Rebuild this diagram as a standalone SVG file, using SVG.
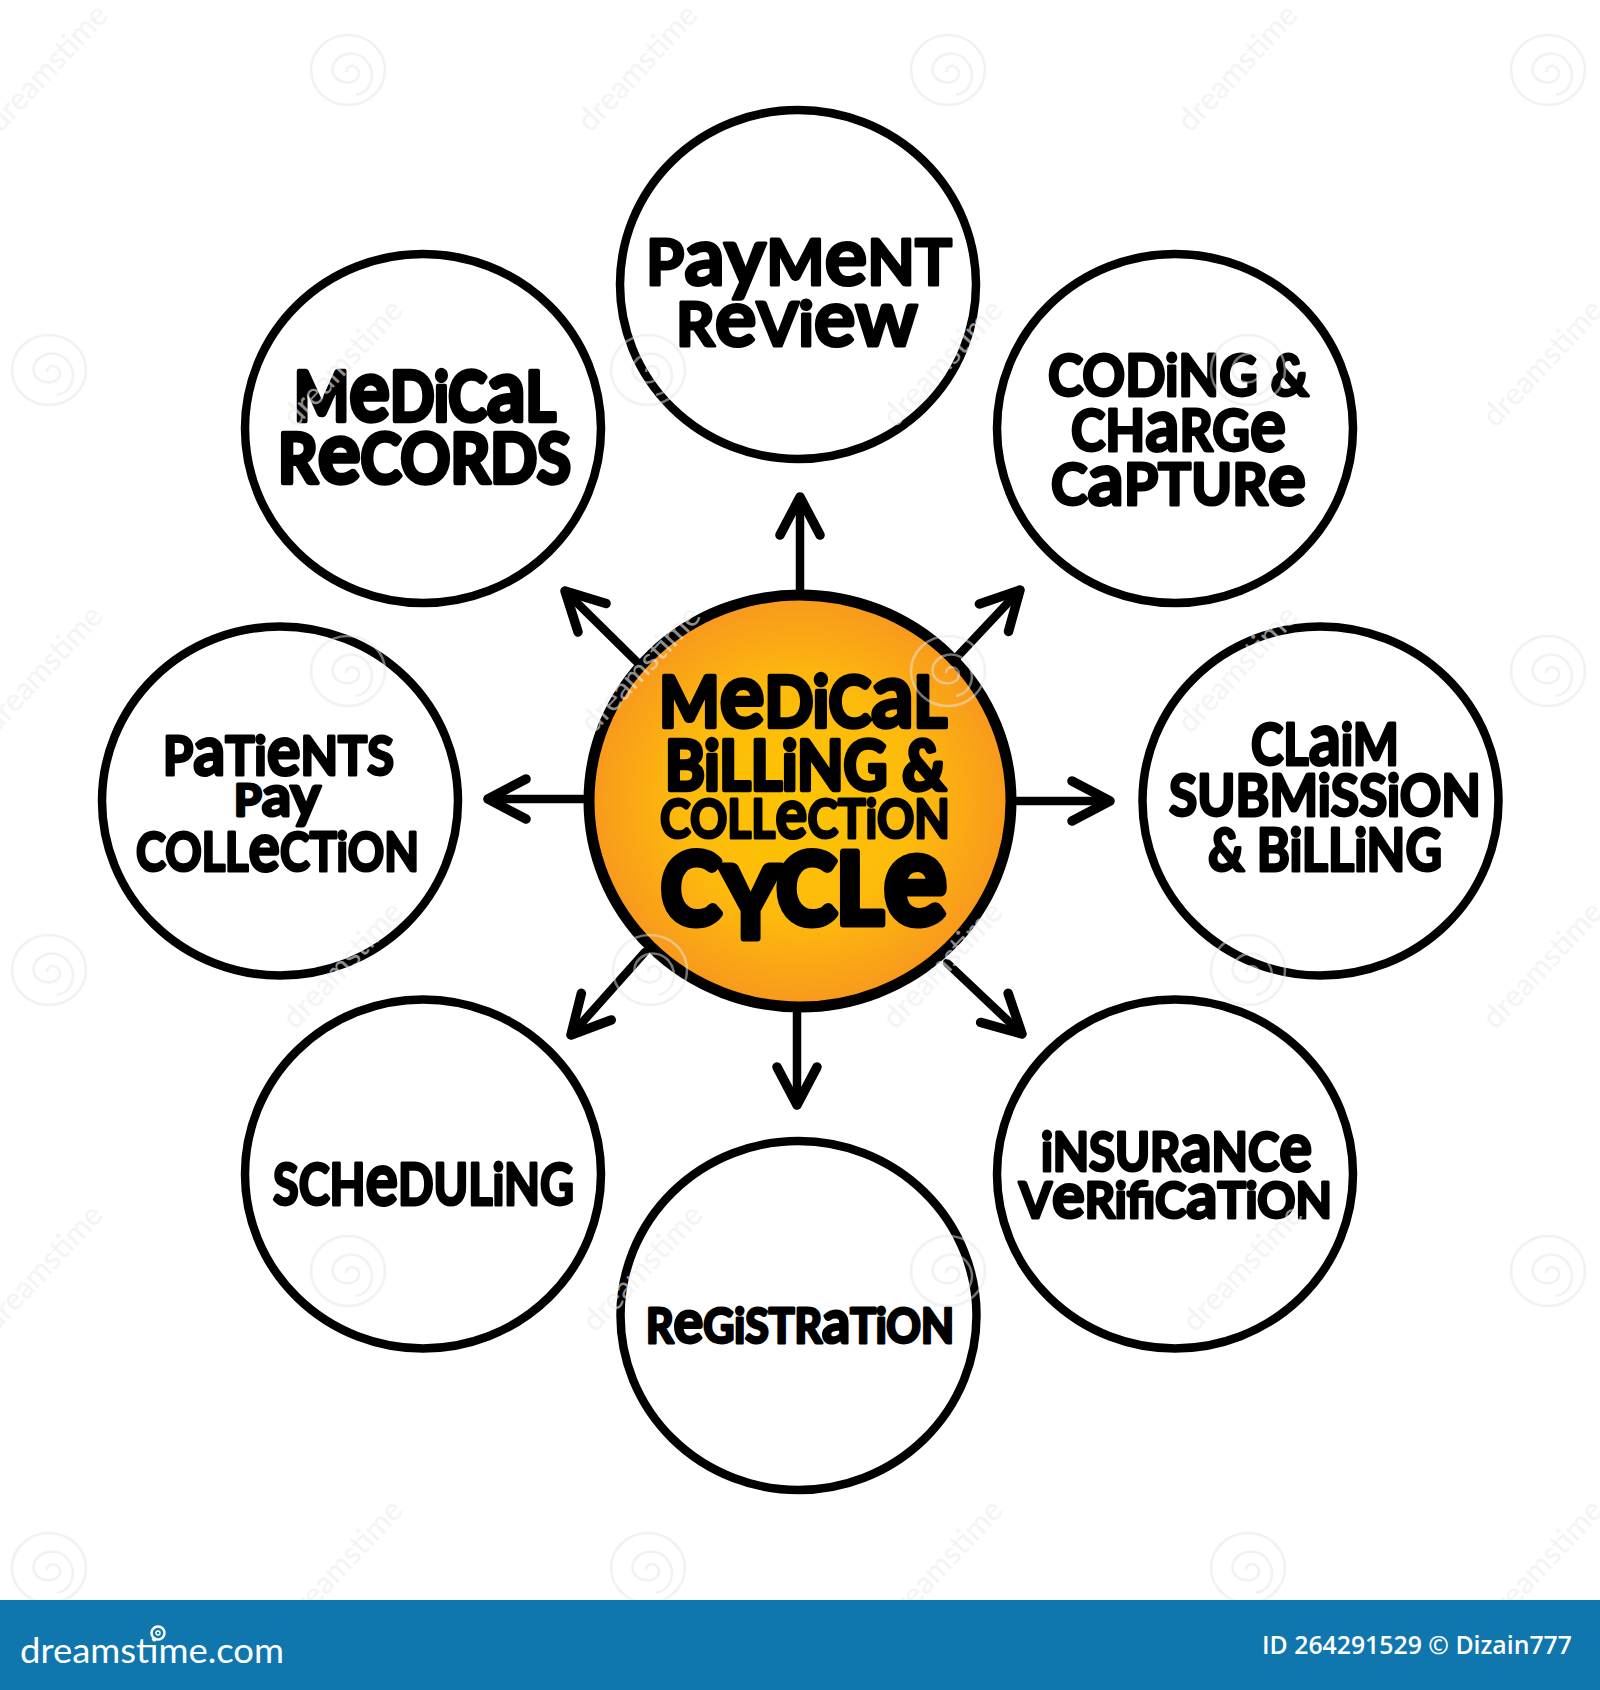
<svg xmlns="http://www.w3.org/2000/svg" xmlns:xlink="http://www.w3.org/1999/xlink" width="1600" height="1690" viewBox="0 0 1600 1690">
<style>
.ring{fill:#fff;stroke:#000;stroke-width:8.5}
.hub{fill:url(#hubFill);stroke:#000;stroke-width:11}
.t{font-family:"Lato","Open Sans",sans-serif;font-weight:700;fill:#000;stroke:#000;stroke-width:3;stroke-linejoin:round}
.t.b{stroke-width:4.5}
.t.h{stroke-width:4.5}
.t.c{font-weight:900;stroke-width:7}
.x{font-size:1.3em}
.arrow{fill:none;stroke:#000;stroke-width:8.5;stroke-linecap:round}
.head{fill:none;stroke:#000;stroke-width:9.5;stroke-linecap:round;stroke-linejoin:round}
.wm{fill:none;stroke:#e6e6e6;stroke-width:2.5;opacity:.5}
.wmt{font-family:"Lato",sans-serif;font-size:31px;fill:#ededed;opacity:.6}
.foot{font-family:"Open Sans","Liberation Sans",sans-serif;fill:#fff}
</style>
<defs>
<radialGradient id="hubFill" cx="50%" cy="50%" r="50%">
<stop offset="0" stop-color="#fdc400"/><stop offset=".55" stop-color="#fdbb0c"/><stop offset="1" stop-color="#f8981d"/>
</radialGradient>
<marker id="ah" markerUnits="userSpaceOnUse" markerWidth="60" markerHeight="60" refX="50" refY="30" orient="auto" viewBox="0 0 60 60">
<path class="head" d="M12 10 L50 30 L12 50"/>
</marker>
<g id="sp">
<ellipse cx="0" cy="0" rx="37" ry="35"/>
<path d="M-2 2 C-2 -6 10 -6 11 3 C12 14 -10 17 -15 3 C-19 -13 4 -24 18 -10 C29 3 24 22 8 25"/>
</g>
<g id="wt"><text class="wmt" transform="rotate(-47)" text-anchor="middle">dreamstime</text></g>
</defs>
<rect width="1600" height="1690" fill="#fff"/>

<g id="connectors">
<path class="arrow" marker-end="url(#ah)" d="M800 590 L800 497"/>
<path class="arrow" marker-end="url(#ah)" d="M957 657 L1020 590"/>
<path class="arrow" marker-end="url(#ah)" d="M1016 801 L1110 801"/>
<path class="arrow" marker-end="url(#ah)" d="M947 963 L1022 1034"/>
<path class="arrow" marker-end="url(#ah)" d="M797 1013 L797 1105"/>
<path class="arrow" marker-end="url(#ah)" d="M645 952 L571 1035"/>
<path class="arrow" marker-end="url(#ah)" d="M585 799 L488 799"/>
<path class="arrow" marker-end="url(#ah)" d="M637 662 L565 591"/>
</g>

<g id="node-payment">
<ellipse class="ring" cx="798" cy="284.5" rx="178" ry="174.5"/>
<text class="t" x="646" y="285" font-size="64" textLength="306" lengthAdjust="spacingAndGlyphs">P<tspan class="x">ay</tspan>M<tspan class="x">e</tspan>NT</text>
<text class="t" x="676" y="346" font-size="62" textLength="242" lengthAdjust="spacingAndGlyphs">R<tspan class="x">e</tspan>Vi<tspan class="x">ew</tspan></text>
</g>
<g id="node-records">
<ellipse class="ring" cx="423" cy="428.5" rx="178" ry="174.5"/>
<text class="t b" x="294" y="421" font-size="68" textLength="262" lengthAdjust="spacingAndGlyphs">M<tspan class="x">e</tspan>DiC<tspan class="x">a</tspan>L</text>
<text class="t b" x="278" y="483" font-size="68" textLength="293" lengthAdjust="spacingAndGlyphs">R<tspan class="x">e</tspan>CORDS</text>
</g>
<g id="node-coding">
<ellipse class="ring" cx="1175" cy="428.5" rx="178" ry="174.5"/>
<text class="t" x="1048" y="396" font-size="58" textLength="261" lengthAdjust="spacingAndGlyphs">CODiNG &amp;</text>
<text class="t" x="1071" y="451" font-size="58" textLength="215" lengthAdjust="spacingAndGlyphs">CH<tspan class="x">a</tspan>RG<tspan class="x">e</tspan></text>
<text class="t" x="1051" y="505" font-size="57" textLength="255" lengthAdjust="spacingAndGlyphs">C<tspan class="x">a</tspan>PTUR<tspan class="x">e</tspan></text>
</g>
<g id="node-claim">
<ellipse class="ring" cx="1320.5" cy="801" rx="178" ry="174.5"/>
<text class="t" x="1251" y="765" font-size="58" textLength="148" lengthAdjust="spacingAndGlyphs">CL<tspan class="x">a</tspan>iM</text>
<text class="t" x="1169" y="816" font-size="58" textLength="312" lengthAdjust="spacingAndGlyphs">SUBMiSSiON</text>
<text class="t" x="1208" y="871" font-size="60" textLength="234" lengthAdjust="spacingAndGlyphs">&amp; BiLLiNG</text>
</g>
<g id="node-insurance">
<ellipse class="ring" cx="1175" cy="1174" rx="178" ry="174.5"/>
<text class="t" x="1041" y="1171" font-size="53" textLength="271" lengthAdjust="spacingAndGlyphs">iNSUR<tspan class="x">a</tspan>NC<tspan class="x">e</tspan></text>
<text class="t" x="1019" y="1218" font-size="50" textLength="313" lengthAdjust="spacingAndGlyphs">V<tspan class="x">e</tspan>RifiC<tspan class="x">a</tspan>TiON</text>
</g>
<g id="node-registration">
<ellipse class="ring" cx="798.5" cy="1315.5" rx="178" ry="174.5"/>
<text class="t" x="646" y="1343" font-size="47" textLength="308" lengthAdjust="spacingAndGlyphs">R<tspan class="x">e</tspan>GiSTR<tspan class="x">a</tspan>TiON</text>
</g>
<g id="node-scheduling">
<ellipse class="ring" cx="423" cy="1174" rx="178" ry="174.5"/>
<text class="t" x="273" y="1205" font-size="57" textLength="301" lengthAdjust="spacingAndGlyphs">SCH<tspan class="x">e</tspan>DULiNG</text>
</g>
<g id="node-patients">
<ellipse class="ring" cx="280" cy="801" rx="178" ry="174.5"/>
<text class="t" x="163" y="775" font-size="54" textLength="231" lengthAdjust="spacingAndGlyphs">P<tspan class="x">a</tspan>Ti<tspan class="x">e</tspan>NTS</text>
<text class="t" x="234" y="816" font-size="44" textLength="87" lengthAdjust="spacingAndGlyphs">P<tspan class="x">ay</tspan></text>
<text class="t" x="136" y="871" font-size="53" textLength="283" lengthAdjust="spacingAndGlyphs">COLL<tspan class="x">e</tspan>CTiON</text>
</g>
<g id="node-center">
<ellipse class="hub" cx="800" cy="801" rx="211" ry="206"/>
<text class="t h" x="659" y="727" font-size="70" textLength="288" lengthAdjust="spacingAndGlyphs">M<tspan class="x">e</tspan>DiC<tspan class="x">a</tspan>L</text>
<text class="t h" x="665" y="790" font-size="68" textLength="281" lengthAdjust="spacingAndGlyphs">BiLLiNG &amp;</text>
<text class="t" x="660" y="838" font-size="54" textLength="290" lengthAdjust="spacingAndGlyphs">COLL<tspan class="x">e</tspan>CTiON</text>
<text class="t c" x="661" y="924" font-size="100" textLength="286" lengthAdjust="spacingAndGlyphs">C<tspan dy="14">Y</tspan><tspan dy="-14">CL</tspan><tspan class="x">e</tspan></text>
</g>

<g id="watermark">
<use href="#sp" class="wm" x="348" y="70"/><use href="#sp" class="wm" x="948" y="70"/><use href="#sp" class="wm" x="1548" y="70"/>
<use href="#sp" class="wm" x="49" y="370"/><use href="#sp" class="wm" x="648" y="370"/><use href="#sp" class="wm" x="1248" y="370"/>
<use href="#sp" class="wm" x="348" y="671"/><use href="#sp" class="wm" x="948" y="671"/><use href="#sp" class="wm" x="1548" y="671"/>
<use href="#sp" class="wm" x="49" y="970"/><use href="#sp" class="wm" x="650" y="970"/><use href="#sp" class="wm" x="1248" y="970"/>
<use href="#sp" class="wm" x="348" y="1271"/><use href="#sp" class="wm" x="948" y="1271"/><use href="#sp" class="wm" x="1548" y="1271"/>
<use href="#sp" class="wm" x="49" y="1568"/><use href="#sp" class="wm" x="648" y="1568"/><use href="#sp" class="wm" x="1248" y="1568"/>
<use href="#wt" x="55" y="75"/><use href="#wt" x="645" y="75"/><use href="#wt" x="1245" y="75"/>
<use href="#wt" x="350" y="370"/><use href="#wt" x="950" y="370"/><use href="#wt" x="1550" y="370"/>
<use href="#wt" x="50" y="676"/><use href="#wt" x="648" y="676"/><use href="#wt" x="1245" y="676"/>
<use href="#wt" x="350" y="972"/><use href="#wt" x="950" y="972"/><use href="#wt" x="1550" y="972"/>
<use href="#wt" x="50" y="1275"/><use href="#wt" x="650" y="1275"/><use href="#wt" x="1250" y="1275"/>
<use href="#wt" x="350" y="1570"/><use href="#wt" x="950" y="1570"/><use href="#wt" x="1550" y="1570"/>
</g>

<g id="footer">
<rect x="0" y="1600" width="1600" height="90" fill="#0f76ae"/>
<text class="foot" x="20" y="1663" font-size="34" textLength="264" lengthAdjust="spacingAndGlyphs" style="font-family:Lato,sans-serif">dreamstime.com</text>
<circle cx="158" cy="1633" r="6.5" fill="none" stroke="#fff" stroke-width="2.5"/>
<circle cx="158" cy="1633" r="2" fill="none" stroke="#fff" stroke-width="1.5"/>
<text class="foot" x="1262" y="1654" font-size="25" font-weight="600" textLength="310" lengthAdjust="spacingAndGlyphs">ID 264291529 © Dizain777</text>
</g>
</svg>
